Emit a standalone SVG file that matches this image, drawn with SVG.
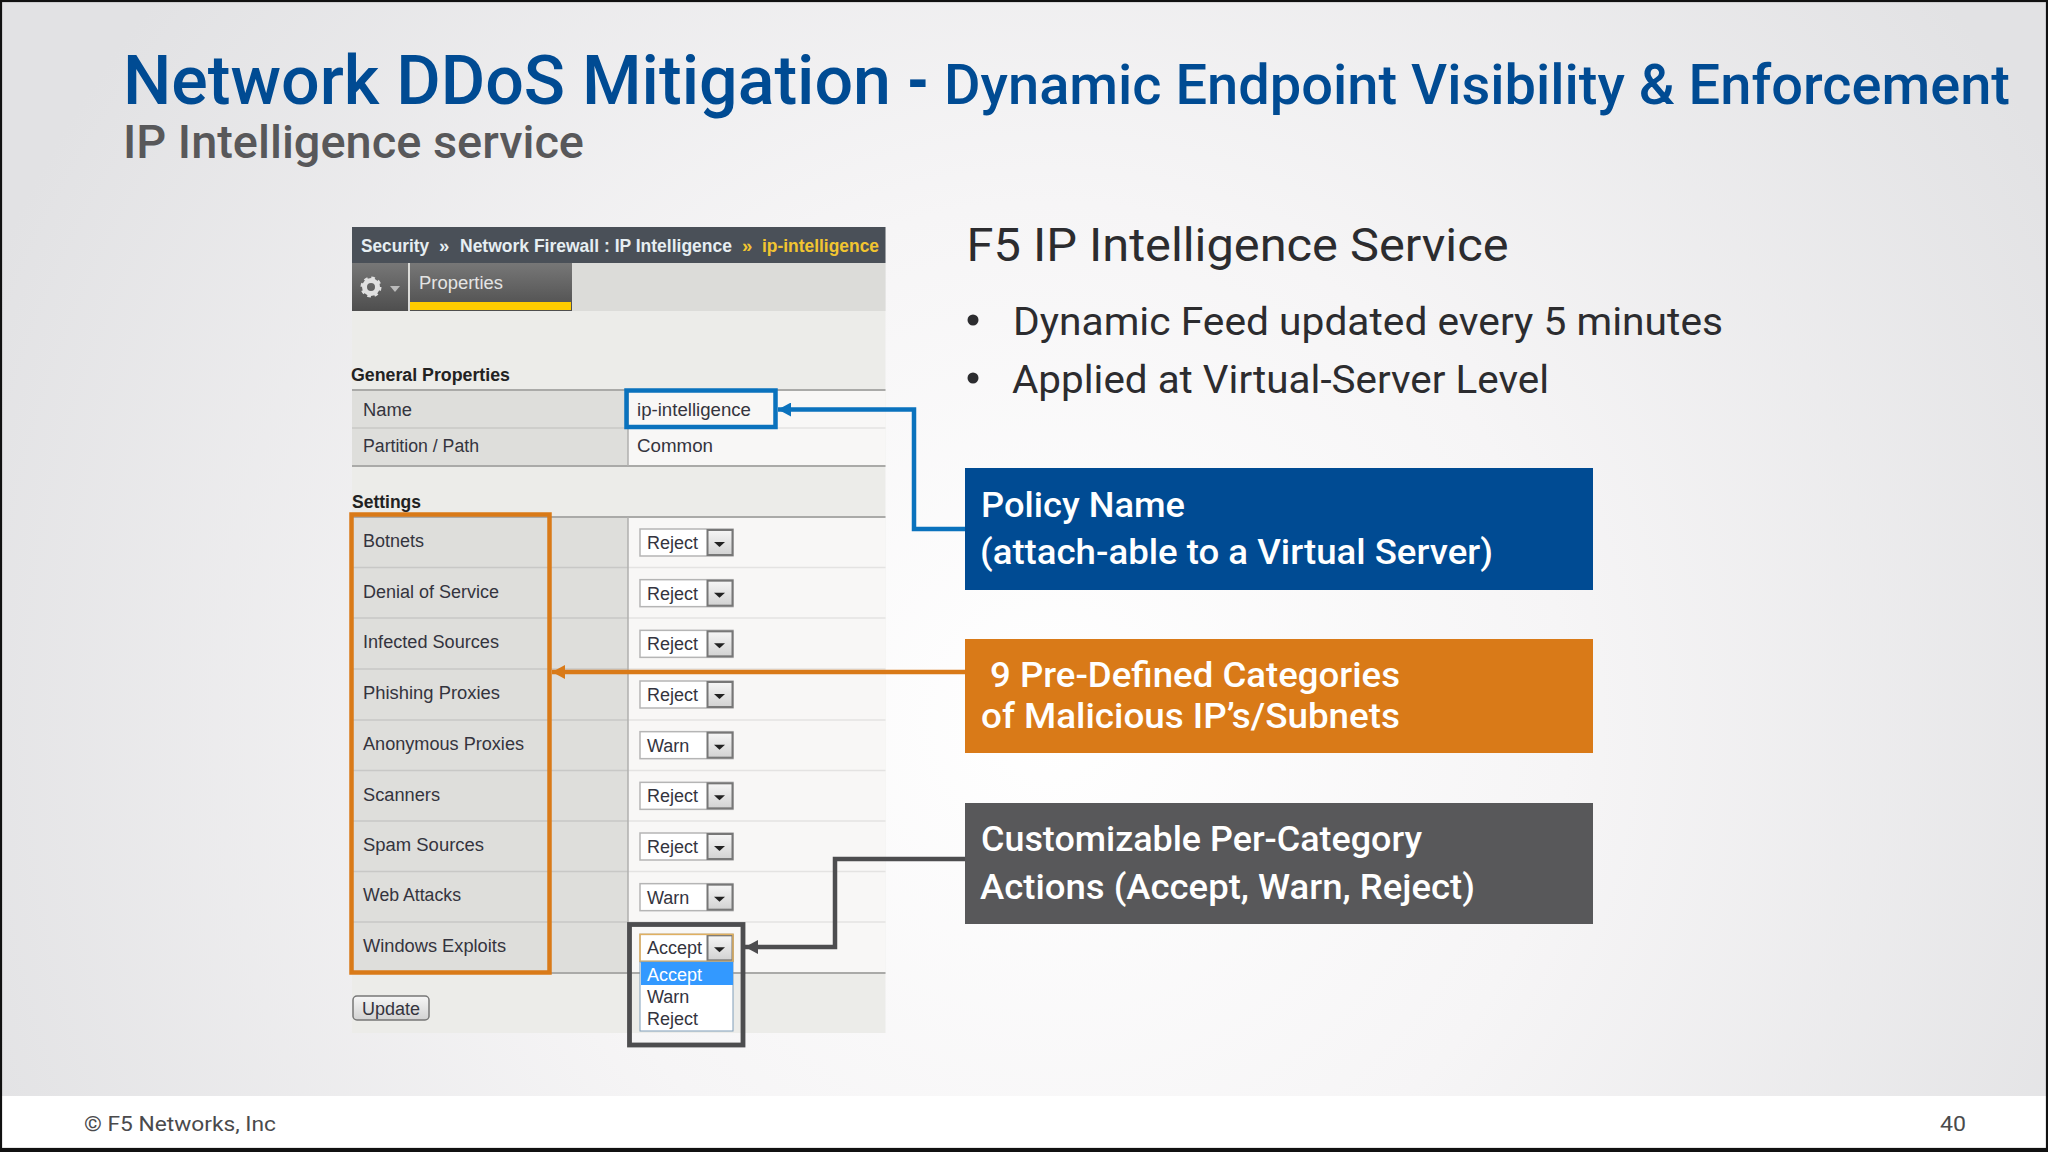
<svg xmlns="http://www.w3.org/2000/svg" width="2048" height="1152" viewBox="0 0 2048 1152">
<defs>
<radialGradient id="bg" gradientUnits="userSpaceOnUse" cx="1050" cy="720" r="1150">
<stop offset="0" stop-color="#ffffff"/><stop offset="0.45" stop-color="#f6f5f6"/><stop offset="1" stop-color="#e2e2e4"/>
</radialGradient>
<linearGradient id="tab" x1="0" y1="0" x2="0" y2="1"><stop offset="0" stop-color="#777777"/><stop offset="1" stop-color="#4e4e4e"/></linearGradient>
<linearGradient id="btn" x1="0" y1="0" x2="0" y2="1"><stop offset="0" stop-color="#f6f6f6"/><stop offset="1" stop-color="#d2d2d2"/></linearGradient>
<marker id="ab" markerUnits="userSpaceOnUse" markerWidth="13" markerHeight="14" refX="13" refY="7" orient="auto"><path d="M0 0L13 7L0 14Z" fill="#0a72bd"/></marker>
<marker id="ao" markerUnits="userSpaceOnUse" markerWidth="13" markerHeight="14" refX="13" refY="7" orient="auto"><path d="M0 0L13 7L0 14Z" fill="#d97a18"/></marker>
<marker id="ag" markerUnits="userSpaceOnUse" markerWidth="13" markerHeight="14" refX="13" refY="7" orient="auto"><path d="M0 0L13 7L0 14Z" fill="#4d4d4f"/></marker>
<g id="selbase"><rect class="sel" x="640" y="529" width="93" height="27"/><rect class="btn" x="707.500" y="530" width="25" height="25"/><path class="tri" d="M714 542h11l-5.500 5z"/></g>
</defs>
<style>
.ui{font-family:"Liberation Sans",Arial,sans-serif;font-size:18px;fill:#34343e}
.h{font-family:"Liberation Sans",Arial,sans-serif;font-size:18px;font-weight:700;fill:#222}
.bc{font-family:"Liberation Sans",Arial,sans-serif;font-size:18.500px;font-weight:700;fill:#e6eef2}
.title{font-family:Roboto,sans-serif;font-weight:500;fill:#004b93}
.sub{font-family:Roboto,sans-serif;font-weight:500;fill:#58585a}
.body{font-family:Roboto,sans-serif;fill:#2c2c2f}
.cb{font-family:Roboto,sans-serif;font-size:35px;font-weight:500;fill:#fff}
.foot{font-family:Roboto,sans-serif;font-size:21px;fill:#4a4a4c;font-weight:400}
.sel{fill:#fff;stroke:#b5b5b5;stroke-width:1.500}
.btn{fill:url(#btn);stroke:#777;stroke-width:2}
.tri{fill:#222}
.line{stroke:#c8c8c6;stroke-width:1.500}
.line2{stroke:#e4e3e2;stroke-width:1.500}
.rule{stroke:#aaaaa8;stroke-width:1.800}
.conn{fill:none;stroke-width:4.500}
</style>
<rect width="2048" height="1152" fill="url(#bg)"/>
<g id="footer">
<rect x="0" y="1096" width="2048" height="56" fill="#fff"/>
<text class="foot" x="84" y="1131" textLength="192" lengthAdjust="spacingAndGlyphs">© F5 Networks, Inc</text>
<text class="foot" x="1940" y="1131" textLength="26" lengthAdjust="spacingAndGlyphs">40</text>
</g>
<g id="title">
<text class="title" x="123" y="104" font-size="68" textLength="768" lengthAdjust="spacingAndGlyphs">Network DDoS Mitigation</text>
<text class="title" x="907" y="104" font-size="68" style="font-weight:700" textLength="22" lengthAdjust="spacingAndGlyphs">-</text>
<text class="title" x="944" y="104" font-size="55" textLength="1066" lengthAdjust="spacingAndGlyphs">Dynamic Endpoint Visibility &amp; Enforcement</text>
<text class="sub" x="123" y="158" font-size="46" textLength="461" lengthAdjust="spacingAndGlyphs">IP Intelligence service</text>
</g>
<g id="screenshot">
<rect x="352" y="227" width="533.500" height="806" fill="#ecece9"/>
<rect x="352" y="227" width="533.500" height="36" fill="#4a5058"/>
<rect x="352" y="263" width="533.500" height="48" fill="#dcdcd9"/>
<rect x="352" y="263" width="56" height="48" fill="url(#tab)"/>
<circle cx="371" cy="287" r="6.500" fill="none" stroke="#e0e0e0" stroke-width="5"/>
<circle cx="371" cy="287" r="9" fill="none" stroke="#e0e0e0" stroke-width="3" stroke-dasharray="3.500 3.570"/>
<path d="M390 286h10l-5 6z" fill="#bbb"/>
<rect x="410" y="263" width="162" height="48" fill="url(#tab)"/>
<rect x="410" y="302" width="161" height="8" fill="#ffcc00"/>
<text class="bc" x="361" y="252" textLength="68" lengthAdjust="spacingAndGlyphs">Security</text>
<text class="bc" x="439" y="252">»</text>
<text class="bc" x="460" y="252" textLength="272" lengthAdjust="spacingAndGlyphs">Network Firewall : IP Intelligence</text>
<text class="bc" x="742" y="252" style="fill:#f2c530">»</text>
<text class="bc" x="762" y="252" style="fill:#f2c530" textLength="117" lengthAdjust="spacingAndGlyphs">ip-intelligence</text>
<text class="ui" x="419" y="288.500" style="fill:#e4e4e4" textLength="84" lengthAdjust="spacingAndGlyphs">Properties</text>
<text class="h" x="351" y="381" textLength="159" lengthAdjust="spacingAndGlyphs">General Properties</text>
<rect x="352" y="390" width="276" height="76" fill="#dededb"/>
<rect x="628" y="390" width="257.500" height="76" fill="#f8f7f6"/>
<path class="rule" d="M352 390H885.500M352 466H885.500"/>
<path class="line" d="M352 428H628"/><path class="line2" d="M628 428H885.500"/>
<text class="ui" x="363" y="416" textLength="49" lengthAdjust="spacingAndGlyphs">Name</text>
<text class="ui" x="637" y="416" textLength="114" lengthAdjust="spacingAndGlyphs">ip-intelligence</text>
<text class="ui" x="363" y="452" textLength="116" lengthAdjust="spacingAndGlyphs">Partition / Path</text>
<text class="ui" x="637" y="452" textLength="76" lengthAdjust="spacingAndGlyphs">Common</text>
<text class="h" x="352" y="507.500" textLength="69" lengthAdjust="spacingAndGlyphs">Settings</text>
<rect x="352" y="517" width="276" height="456" fill="#dededb"/>
<rect x="628" y="517" width="257.500" height="456" fill="#f8f7f6"/>
<path class="rule" d="M352 517H885.500M352 973H885.500"/>
<path class="line" d="M352 567.500H628M352 618H628M352 669H628M352 720H628M352 770.500H628M352 821H628M352 871.500H628M352 922H628"/>
<path class="line2" d="M628 567.500H885.500M628 618H885.500M628 669H885.500M628 720H885.500M628 770.500H885.500M628 821H885.500M628 871.500H885.500M628 922H885.500"/>
<path d="M628 390V466M628 517V973" stroke="#b0b0ae" stroke-width="1.500"/>
<g class="labels">
<text class="ui" x="363" y="547" textLength="61" lengthAdjust="spacingAndGlyphs">Botnets</text>
<text class="ui" x="363" y="598" textLength="136" lengthAdjust="spacingAndGlyphs">Denial of Service</text>
<text class="ui" x="363" y="648" textLength="136" lengthAdjust="spacingAndGlyphs">Infected Sources</text>
<text class="ui" x="363" y="699" textLength="137" lengthAdjust="spacingAndGlyphs">Phishing Proxies</text>
<text class="ui" x="363" y="750" textLength="161" lengthAdjust="spacingAndGlyphs">Anonymous Proxies</text>
<text class="ui" x="363" y="801" textLength="77" lengthAdjust="spacingAndGlyphs">Scanners</text>
<text class="ui" x="363" y="851" textLength="121" lengthAdjust="spacingAndGlyphs">Spam Sources</text>
<text class="ui" x="363" y="901" textLength="98" lengthAdjust="spacingAndGlyphs">Web Attacks</text>
<text class="ui" x="363" y="952" textLength="143" lengthAdjust="spacingAndGlyphs">Windows Exploits</text>
</g>
<g class="selects">
<g><use href="#selbase"/><text class="ui" x="647" y="549">Reject</text></g>
<g transform="translate(0,50.670)"><use href="#selbase"/><text class="ui" x="647" y="549">Reject</text></g>
<g transform="translate(0,101.340)"><use href="#selbase"/><text class="ui" x="647" y="549">Reject</text></g>
<g transform="translate(0,152)"><use href="#selbase"/><text class="ui" x="647" y="549">Reject</text></g>
<g transform="translate(0,202.670)"><use href="#selbase"/><text class="ui" x="647" y="549">Warn</text></g>
<g transform="translate(0,253.340)"><use href="#selbase"/><text class="ui" x="647" y="549">Reject</text></g>
<g transform="translate(0,304)"><use href="#selbase"/><text class="ui" x="647" y="549">Reject</text></g>
<g transform="translate(0,354.670)"><use href="#selbase"/><text class="ui" x="647" y="549">Warn</text></g>
<g transform="translate(0,405.340)"><use href="#selbase"/><rect x="640" y="529" width="93" height="27" fill="none" stroke="#e0b060" stroke-width="1.500"/><text class="ui" x="647" y="549">Accept</text></g>
</g>
<rect x="640" y="962" width="93" height="69" fill="#fff" stroke="#7f9db9" stroke-width="1"/>
<rect x="641" y="962" width="92" height="23" fill="#3399ff"/>
<text class="ui" x="647" y="981" style="fill:#fff">Accept</text>
<text class="ui" x="647" y="1003">Warn</text>
<text class="ui" x="647" y="1025">Reject</text>
<rect x="353" y="996" width="76" height="24" rx="4" fill="url(#btn)" stroke="#777" stroke-width="1.500"/>
<text class="ui" x="362" y="1015" textLength="58" lengthAdjust="spacingAndGlyphs">Update</text>
</g>
<g id="service-text">
<text class="body" x="966.500" y="261" font-size="46" textLength="542" lengthAdjust="spacingAndGlyphs">F5 IP Intelligence Service</text>
<circle cx="973" cy="320" r="5.500" fill="#2c2c2f"/>
<text class="body" x="1013" y="335" font-size="39" textLength="710" lengthAdjust="spacingAndGlyphs">Dynamic Feed updated every 5 minutes</text>
<circle cx="973" cy="378" r="5.500" fill="#2c2c2f"/>
<text class="body" x="1012" y="393" font-size="39" textLength="537" lengthAdjust="spacingAndGlyphs">Applied at Virtual-Server Level</text>
</g>
<g id="policy-name">
<rect x="965" y="468" width="628" height="122" fill="#004b93"/>
<text class="cb" x="981" y="517" textLength="204" lengthAdjust="spacingAndGlyphs">Policy Name</text>
<text class="cb" x="980" y="564" textLength="513" lengthAdjust="spacingAndGlyphs">(attach-able to a Virtual Server)</text>
</g>
<g id="categories">
<rect x="965" y="639" width="628" height="114" fill="#d97a18"/>
<text class="cb" x="990" y="687" textLength="410" lengthAdjust="spacingAndGlyphs">9 Pre-Defined Categories</text>
<text class="cb" x="981" y="728" textLength="419" lengthAdjust="spacingAndGlyphs">of Malicious IP’s/Subnets</text>
</g>
<g id="actions">
<rect x="965" y="803" width="628" height="121" fill="#58585a"/>
<text class="cb" x="981" y="851" textLength="441" lengthAdjust="spacingAndGlyphs">Customizable Per-Category</text>
<text class="cb" x="980" y="899" textLength="495" lengthAdjust="spacingAndGlyphs">Actions (Accept, Warn, Reject)</text>
</g>
<g id="highlight-name"><rect x="626.500" y="390.500" width="149" height="36.500" fill="none" stroke="#0a72bd" stroke-width="4.500"/></g>
<g id="highlight-categories"><rect x="351.500" y="514.500" width="198" height="458" fill="none" stroke="#d97a18" stroke-width="4.500"/></g>
<g id="highlight-actions"><rect x="629.500" y="924.500" width="113.500" height="120.500" fill="none" stroke="#4d4d4f" stroke-width="4.800"/></g>
<g id="connectors">
<path class="conn" stroke="#0a72bd" marker-end="url(#ab)" d="M965 529H914V409.500H778"/>
<path class="conn" stroke="#d97a18" marker-end="url(#ao)" d="M965 672H552"/>
<path class="conn" stroke="#4d4d4f" marker-end="url(#ag)" d="M965 859H835V947H745"/>
</g>
<rect x="1" y="1" width="2046" height="1148" fill="none" stroke="#111" stroke-width="2.200"/>
<rect x="0" y="1149" width="2048" height="3" fill="#111"/>
</svg>
